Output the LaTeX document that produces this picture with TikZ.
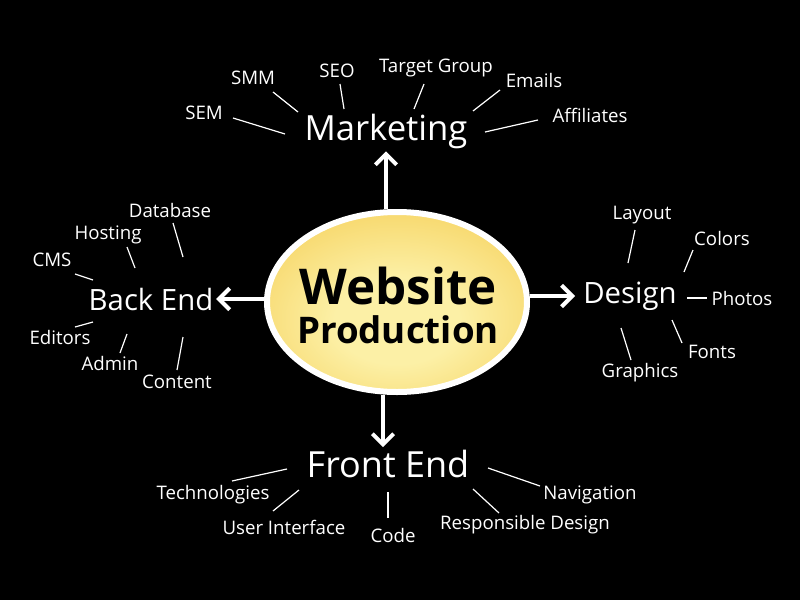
\documentclass[tikz,border=0pt]{standalone}
\usepackage{fontspec}
\setmainfont{Open Sans}
\usetikzlibrary{shapes.geometric,arrows.meta}
\definecolor{yin}{HTML}{FCF0A6}
\definecolor{yout}{HTML}{F2BE2E}
\pgfdeclareradialshading{yshade}{\pgfpoint{0bp}{-6bp}}{color(0bp)=(yin);color(12bp)=(yin);color(50bp)=(yout);color(100bp)=(yout)}
\begin{document}
\begin{tikzpicture}[x=0.75pt,y=-0.75pt,
  leaf/.style={text=white,font=\fontsize{14}{16}\selectfont,inner sep=0pt},
  hub/.style={text=white,font=\fontsize{#1}{#1}\selectfont,inner sep=2pt},
  link/.style={draw=white,line width=0.9pt},
  bigarrow/.style={draw=white,line width=3pt,-{Straight Barb[length=8pt,width=16pt]}},
  coreword/.style={text=black,font=\fontsize{#1}{#1}\selectfont\bfseries,inner sep=0pt}]
\fill[black] (0,0) rectangle (800,600);
\useasboundingbox (0,0) rectangle (800,600);

% centre
\node[ellipse,minimum width=195pt,minimum height=135pt,draw=white,line width=4.5pt,shading=yshade] (center) at (397,302) {};
\node[coreword=37] (web) at (398,286) {Website};
\node[coreword=27.5] (prod) at (398,330) {Production};

% hubs
\node[hub=26] (marketing) at (386,131) {Marketing};
\node[hub=22] (backend) at (151,299) {Back End};
\node[hub=22] (design) at (630,296) {Design};
\node[hub=27] (frontend) at (388,464) {Front End};

% main arrows
\draw[bigarrow] (marketing.south |- center.north) -- (marketing.south);
\draw[bigarrow] (backend.east -| center.west) -- (backend.east);
\draw[bigarrow] (design.west -| center.east) -- ([xshift=-4pt]design.west);
\draw[bigarrow] (center.south -| 383,0) -- (frontend.north -| 383,0);

% marketing leaves
\node[leaf] (sem) at (204,113) {SEM};
\node[leaf] (smm) at (253,78) {SMM};
\node[leaf] (seo) at (337,71) {SEO};
\node[leaf] (target) at (436,68) {Target Group};
\node[leaf] (emails) at (534,80) {Emails};
\node[leaf] (affiliates) at (590,115) {Affiliates};
\coordinate (sem-a) at (233,118); \coordinate (sem-b) at (285,134);
\coordinate (smm-a) at (273,92);  \coordinate (smm-b) at (298,112);
\coordinate (seo-a) at (340,84);  \coordinate (seo-b) at (344,109);
\coordinate (tg-a) at (424,84);   \coordinate (tg-b) at (414,109);
\coordinate (em-a) at (500,90);   \coordinate (em-b) at (473,111);
\coordinate (af-a) at (538,120);  \coordinate (af-b) at (485,132);
\draw[link] (sem-a) -- (sem-b);
\draw[link] (smm-a) -- (smm-b);
\draw[link] (seo-a) -- (seo-b);
\draw[link] (tg-a) -- (tg-b);
\draw[link] (em-a) -- (em-b);
\draw[link] (af-a) -- (af-b);

% back end leaves
\node[leaf] (database) at (170,210) {Database};
\node[leaf] (hosting) at (108,235) {Hosting};
\node[leaf] (cms) at (52,260) {CMS};
\node[leaf] (editors) at (60,337) {Editors};
\node[leaf] (admin) at (110,363) {Admin};
\node[leaf] (content) at (177,382) {Content};
\coordinate (db-a) at (173,223); \coordinate (db-b) at (183,257);
\coordinate (ho-a) at (127,247); \coordinate (ho-b) at (135,268);
\coordinate (cm-a) at (75,274);  \coordinate (cm-b) at (93,280);
\coordinate (ed-a) at (75,327);  \coordinate (ed-b) at (93,322);
\coordinate (ad-a) at (120,353); \coordinate (ad-b) at (127,334);
\coordinate (co-a) at (177,370); \coordinate (co-b) at (183,337);
\draw[link] (db-a) -- (db-b);
\draw[link] (ho-a) -- (ho-b);
\draw[link] (cm-a) -- (cm-b);
\draw[link] (ed-a) -- (ed-b);
\draw[link] (ad-a) -- (ad-b);
\draw[link] (co-a) -- (co-b);

% design leaves
\node[leaf] (layout) at (642,215) {Layout};
\node[leaf] (colors) at (722,238) {Colors};
\node[leaf] (photos) at (742,298) {Photos};
\node[leaf] (fonts) at (712,352) {Fonts};
\node[leaf] (graphics) at (640,373) {Graphics};
\coordinate (la-a) at (635,230); \coordinate (la-b) at (628,263);
\coordinate (cl-a) at (693,250); \coordinate (cl-b) at (684,272);
\coordinate (ph-a) at (687,298); \coordinate (ph-b) at (707,298);
\coordinate (fo-a) at (672,320); \coordinate (fo-b) at (682,343);
\coordinate (gr-a) at (621,328); \coordinate (gr-b) at (631,360);
\draw[link] (la-a) -- (la-b);
\draw[link] (cl-a) -- (cl-b);
\draw[link] (ph-a) -- (ph-b);
\draw[link] (fo-a) -- (fo-b);
\draw[link] (gr-a) -- (gr-b);

% front end leaves
\node[leaf] (tech) at (213,495) {Technologies};
\node[leaf] (ui) at (284,527) {User Interface};
\node[leaf] (code) at (393,535) {Code};
\node[leaf] (resp) at (525,525) {Responsible Design};
\node[leaf] (nav) at (590,495) {Navigation};
\coordinate (te-a) at (232,481); \coordinate (te-b) at (287,469);
\coordinate (ui-a) at (273,511); \coordinate (ui-b) at (299,490);
\coordinate (cd-a) at (388,518); \coordinate (cd-b) at (388,492);
\coordinate (rd-a) at (499,513); \coordinate (rd-b) at (473,489);
\coordinate (nv-a) at (540,486); \coordinate (nv-b) at (488,468);
\draw[link] (te-a) -- (te-b);
\draw[link] (ui-a) -- (ui-b);
\draw[link] (cd-a) -- (cd-b);
\draw[link] (rd-a) -- (rd-b);
\draw[link] (nv-a) -- (nv-b);
\end{tikzpicture}
\end{document}
